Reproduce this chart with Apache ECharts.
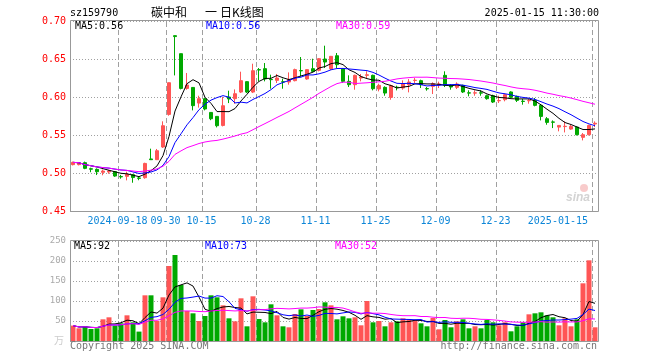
<!DOCTYPE html>
<html><head><meta charset="utf-8">
<script src="https://cdn.jsdelivr.net/npm/echarts@6/dist/echarts.min.js"></script>
<style>html,body{margin:0;padding:0;background:#fff}#c{width:660px;height:360px}</style>
</head><body><div id="c"></div>
<script>
const dates = ['2024-09-04','2024-09-05','2024-09-06','2024-09-09','2024-09-10','2024-09-11','2024-09-12','2024-09-13','2024-09-18','2024-09-19','2024-09-20','2024-09-23','2024-09-24','2024-09-25','2024-09-26','2024-09-27','2024-09-30',
'2024-10-08','2024-10-09','2024-10-10','2024-10-11','2024-10-14','2024-10-15','2024-10-16','2024-10-17','2024-10-18','2024-10-21','2024-10-22','2024-10-23','2024-10-24','2024-10-25','2024-10-28','2024-10-29','2024-10-30','2024-10-31',
'2024-11-01','2024-11-04','2024-11-05','2024-11-06','2024-11-07','2024-11-08','2024-11-11','2024-11-12','2024-11-13','2024-11-14','2024-11-15','2024-11-18','2024-11-19','2024-11-20','2024-11-21','2024-11-22','2024-11-25','2024-11-26','2024-11-27','2024-11-28','2024-11-29',
'2024-12-02','2024-12-03','2024-12-04','2024-12-05','2024-12-06','2024-12-09','2024-12-10','2024-12-11','2024-12-12','2024-12-13','2024-12-16','2024-12-17','2024-12-18','2024-12-19','2024-12-20','2024-12-23','2024-12-24','2024-12-25','2024-12-26','2024-12-27','2024-12-30','2024-12-31',
'2025-01-02','2025-01-03','2025-01-06','2025-01-07','2025-01-08','2025-01-09','2025-01-10','2025-01-13','2025-01-14','2025-01-15'];

const openP  = [0.5110,0.5110,0.5136,0.5056,0.5048,0.5009,0.5013,0.5017,0.4953,0.4956,0.4978,0.4935,0.4938,0.5185,0.5175,0.5342,0.5771,
0.6807,0.6570,0.6113,0.6126,0.5920,0.5978,0.5797,0.5745,0.5626,0.6000,0.5978,0.6065,0.6202,0.6065,0.6360,0.6373,0.6232,0.6219,
0.6200,0.6197,0.6215,0.6348,0.6237,0.6373,0.6351,0.6500,0.6372,0.6543,0.6368,0.6206,0.6162,0.6250,0.6285,0.6285,0.6105,0.6127,0.5995,0.6129,0.6118,
0.6162,0.6217,0.6215,0.6111,0.6140,0.6160,0.6285,0.6153,0.6127,0.6153,0.6055,0.6051,0.6055,0.6017,0.6017,0.5950,0.5965,0.6066,0.6009,0.5945,0.5950,0.5956,
0.5890,0.5714,0.5672,0.5604,0.5611,0.5578,0.5604,0.5469,0.5504,0.5645];
const closeP = [0.5140,0.5130,0.5061,0.5050,0.5017,0.5026,0.5026,0.4960,0.4949,0.4982,0.4940,0.4930,0.5126,0.5175,0.5293,0.5622,0.6188,
0.6795,0.6113,0.6158,0.5886,0.5978,0.5842,0.5714,0.5622,0.5885,0.5974,0.6043,0.6215,0.6065,0.6346,0.6355,0.6237,0.6228,0.6250,
0.6197,0.6232,0.6360,0.6344,0.6360,0.6337,0.6504,0.6460,0.6535,0.6425,0.6206,0.6162,0.6285,0.6265,0.6292,0.6109,0.6153,0.6052,0.6149,0.6125,0.6175,
0.6197,0.6221,0.6162,0.6107,0.6175,0.6171,0.6153,0.6131,0.6171,0.6066,0.6051,0.6055,0.6051,0.5978,0.5934,0.5954,0.6030,0.5996,0.5956,0.5941,0.5954,0.5890,
0.5745,0.5666,0.5668,0.5626,0.5615,0.5613,0.5504,0.5504,0.5626,0.5655];
const lowP   = [0.5100,0.5100,0.5050,0.5010,0.4973,0.4970,0.4990,0.4950,0.4925,0.4903,0.4872,0.4905,0.4925,0.5173,0.5173,0.5330,0.5754,
0.6284,0.6100,0.6096,0.5824,0.5860,0.5824,0.5695,0.5600,0.5613,0.5920,0.5910,0.6052,0.6052,0.6052,0.6206,0.6206,0.6109,0.6184,
0.6109,0.6162,0.6206,0.6272,0.6228,0.6329,0.6337,0.6381,0.6355,0.6381,0.6184,0.6131,0.6096,0.6206,0.6249,0.6087,0.6074,0.6017,0.5964,0.6087,0.6096,
0.6061,0.6184,0.6118,0.6083,0.6039,0.6118,0.6131,0.6096,0.6105,0.6053,0.6009,0.6017,0.6017,0.5965,0.5921,0.5921,0.5943,0.5987,0.5934,0.5899,0.5912,0.5877,
0.5692,0.5635,0.5591,0.5548,0.5534,0.5569,0.5495,0.5429,0.5495,0.5604];
const highP  = [0.5150,0.5140,0.5150,0.5070,0.5060,0.5045,0.5040,0.5025,0.4975,0.5017,0.4985,0.4950,0.5135,0.5320,0.5316,0.5680,0.6190,
0.6810,0.6570,0.6316,0.6130,0.6017,0.5990,0.5800,0.5750,0.6000,0.6083,0.6100,0.6333,0.6205,0.6438,0.6381,0.6447,0.6294,0.6303,
0.6241,0.6324,0.6373,0.6526,0.6368,0.6504,0.6513,0.6675,0.6540,0.6579,0.6370,0.6285,0.6294,0.6302,0.6338,0.6294,0.6175,0.6140,0.6162,0.6149,0.6219,
0.6236,0.6249,0.6228,0.6131,0.6193,0.6202,0.6338,0.6171,0.6193,0.6162,0.6088,0.6088,0.6088,0.6030,0.6030,0.6017,0.6044,0.6075,0.6017,0.5974,0.5974,0.5987,
0.5899,0.5736,0.5692,0.5630,0.5679,0.5635,0.5613,0.5526,0.5635,0.5679];
const volume = [38.5,31.7,36,30,31.7,54.2,59.2,38.5,44.2,64.2,46.7,23.5,114.2,114.2,50,109.2,187.5,
215,140,75,69.2,50,62.5,114.2,109.2,89.2,56.7,49.2,106.7,36.7,111.7,55,46.7,91.7,64.2,
36.7,34.2,67.5,79.2,62.5,77.5,80,96.7,89.2,54.2,61.7,56.7,59.2,39.2,100,46.7,50,36.7,46.7,49.2,56.7,
54.2,52.5,44.2,36.7,57.5,29.2,52.5,34.2,49.2,54.2,31.7,36.7,31.7,52.5,46.7,39.2,46.7,24.2,36.7,46.7,66.7,69.2,
71.7,64.2,59.2,39.2,56.7,36.7,54.2,144.2,201.7,34.2];

const tickIdx = [8,16,22,31,41,51,61,71,87];
const tickLabels = ['2024-09-18','09-30','10-15','10-28','11-11','11-25','12-09','12-23','2025-01-15'];
const priceLegend = ['MA5:0.56','MA10:0.56','MA30:0.59'];
const volLegend = ['MA5:92','MA10:73','MA30:52'];
const maPeriods = [5,10,30];
const maColors = ['#000000','#0000ff','#ff00ff'];

const RED = '#ff5555', GREEN = '#00a800';
const MONO = 'DejaVu Sans Mono';
const GRID_LINE = '#a0a0a0';

function movingAvg(arr, n, dp) {
  return arr.map((v, i) => {
    const s = Math.max(0, i - n + 1);
    let sum = 0;
    for (let k = s; k <= i; k++) sum += arr[k];
    return +(sum / (i - s + 1)).toFixed(dp);
  });
}

const isUp = i => closeP[i] >= openP[i];
const showTick = idx => tickIdx.indexOf(idx) >= 0;

const chart = echarts.init(document.getElementById('c'), null, {renderer: 'canvas'});

const xBase = (gridIndex, showLabel) => ({
  type: 'category', gridIndex, data: dates, boundaryGap: true,
  axisLine: {show: false}, axisTick: {show: false},
  axisLabel: {
    show: showLabel, interval: (i) => showTick(i),
    formatter: (v, i) => { const k = tickIdx.indexOf(i); return k >= 0 ? tickLabels[k] : ''; },
    color: '#0d86d8', fontSize: 10, fontFamily: MONO, margin: 5,
    padding: [0, 7, 0, 0], alignMaxLabel: 'right'
  },
  splitLine: {show: false}
});

const series = [
  {
    type: 'candlestick', xAxisIndex: 0, yAxisIndex: 0, barWidth: 4, z: 3,
    data: dates.map((d, i) => [openP[i], closeP[i], lowP[i], highP[i]]),
    itemStyle: {color: RED, color0: GREEN, borderColor: RED, borderColor0: GREEN, borderWidth: 1}
  },
  {
    type: 'bar', xAxisIndex: 1, yAxisIndex: 1, barWidth: 5, z: 3,
    data: volume.map((v, i) => ({value: v, itemStyle: {color: isUp(i) ? RED : GREEN}}))
  }
];
maPeriods.forEach((n, k) => {
  series.push({type: 'line', xAxisIndex: 0, yAxisIndex: 0, data: movingAvg(closeP, n, 4),
    showSymbol: false, symbol: 'none', lineStyle: {color: maColors[k], width: 1}, z: 5});
  series.push({type: 'line', xAxisIndex: 1, yAxisIndex: 1, data: movingAvg(volume, n, 2),
    showSymbol: false, symbol: 'none', lineStyle: {color: maColors[k], width: 1}, z: 5});
});

const txt = (text, x, y, color, size, align, family, extra) => ({
  type: 'text', z: 100,
  style: Object.assign({text, x, y, fill: color, font: size + 'px "' + (family || MONO) + '"',
    align: align || 'left', textAlign: align || 'left', verticalAlign: 'middle', textVerticalAlign: 'middle'}, extra || {})
});

const legendX = [75, 206, 336];
const graphics = [
  {type: 'rect', z: 50, silent: true, shape: {x: 70.5, y: 20.5, width: 528, height: 191}, style: {fill: 'rgba(0,0,0,0)', stroke: '#999999', lineWidth: 1}},
  {type: 'rect', z: 50, silent: true, shape: {x: 70.5, y: 240.5, width: 528, height: 101}, style: {fill: 'rgba(0,0,0,0)', stroke: '#999999', lineWidth: 1}},
  txt('sz159790', 70, 13, '#000', 10),
  txt('碳中和', 151, 12, '#000', 12, 'left', 'Noto Sans CJK SC'),
  txt('一', 205, 12, '#000', 12, 'left', 'Noto Sans CJK SC'),
  txt('日K线图', 220, 12, '#000', 12, 'left', 'Noto Sans CJK SC'),
  txt('2025-01-15 11:30:00', 599, 13, '#000', 10, 'right'),
  txt('Copyright 2025 SINA.COM', 70, 346, '#777', 10),
  txt('http://finance.sina.com.cn', 597, 346, '#777', 10, 'right'),
  txt('万', 64, 340, '#cccccc', 10, 'right', 'Noto Sans CJK SC'),
  txt('sina', 566, 198, 'rgba(200,200,200,0.8)', 17, 'left', 'DejaVu Sans', {fontStyle: 'italic', fontWeight: 'bold', font: 'italic bold 17px "DejaVu Sans"'}),
  {type: 'circle', z: 99, shape: {cx: 584, cy: 188, r: 4}, style: {fill: 'rgba(240,140,140,0.45)'}}
];
priceLegend.forEach((t, k) => graphics.push(txt(t, legendX[k], 26, maColors[k], 10)));
volLegend.forEach((t, k) => graphics.push(txt(t, legendX[k] - 1, 246, maColors[k], 10)));

chart.setOption({
  animation: false,
  backgroundColor: '#ffffff',
  grid: [
    {left: 70, top: 21, width: 528, height: 190, show: false},
    {left: 70, top: 241, width: 528, height: 100, show: false}
  ],
  xAxis: [xBase(0, true), xBase(1, false)],
  yAxis: [
    {type: 'value', gridIndex: 0, min: 0.45, max: 0.70, interval: 0.05,
      axisLine: {show: false}, axisTick: {show: false},
      axisLabel: {color: '#ff0000', fontSize: 10, fontFamily: MONO, margin: 4, formatter: v => v.toFixed(2)},
      splitLine: {show: true, lineStyle: {color: GRID_LINE, width: 1, type: [1, 2]}}},
    {type: 'value', gridIndex: 1, min: 0, max: 250, interval: 50,
      axisLine: {show: false}, axisTick: {show: false},
      axisLabel: {color: '#aaaaaa', fontSize: 9, fontFamily: MONO, margin: 4, formatter: v => v === 0 ? '' : String(v)},
      splitLine: {show: true, lineStyle: {color: GRID_LINE, width: 1, type: [1, 2]}}}
  ],
  series
});

// dashed vertical date lines, built from short filled segments; x comes from the category axis
// (left edge of each labelled day's band), y extents from the two value axes
const dashParts = [];
const c0 = Number(chart.convertToPixel({xAxisIndex: 0}, 0));
const c1 = Number(chart.convertToPixel({xAxisIndex: 0}, 1));
const band = (isFinite(c1) && isFinite(c0) && c1 > c0) ? (c1 - c0) : 6;
const panels = [
  [Number(chart.convertToPixel({yAxisIndex: 0}, 0.70)), Number(chart.convertToPixel({yAxisIndex: 0}, 0.45))],
  [Number(chart.convertToPixel({yAxisIndex: 1}, 250)), Number(chart.convertToPixel({yAxisIndex: 1}, 0))]
];
tickIdx.forEach(i => {
  let c = Number(chart.convertToPixel({xAxisIndex: 0}, i));
  if (!isFinite(c)) c = 70 + band * (i + 0.5);
  const x = Math.round(c - band / 2);
  panels.forEach(([yTop, yBot], p) => {
    if (!isFinite(yTop) || !isFinite(yBot)) { yTop = p ? 241 : 21; yBot = p ? 341 : 211; }
    for (let y = Math.round(yTop) + 1; y < yBot; y += 8) {
      dashParts.push({type: 'rect', z: 2, silent: true,
        shape: {x: x, y: y, width: 1, height: Math.min(5, yBot - y)},
        style: {fill: GRID_LINE}});
    }
  });
});

chart.setOption({graphic: dashParts.concat(graphics)});
</script></body></html>
